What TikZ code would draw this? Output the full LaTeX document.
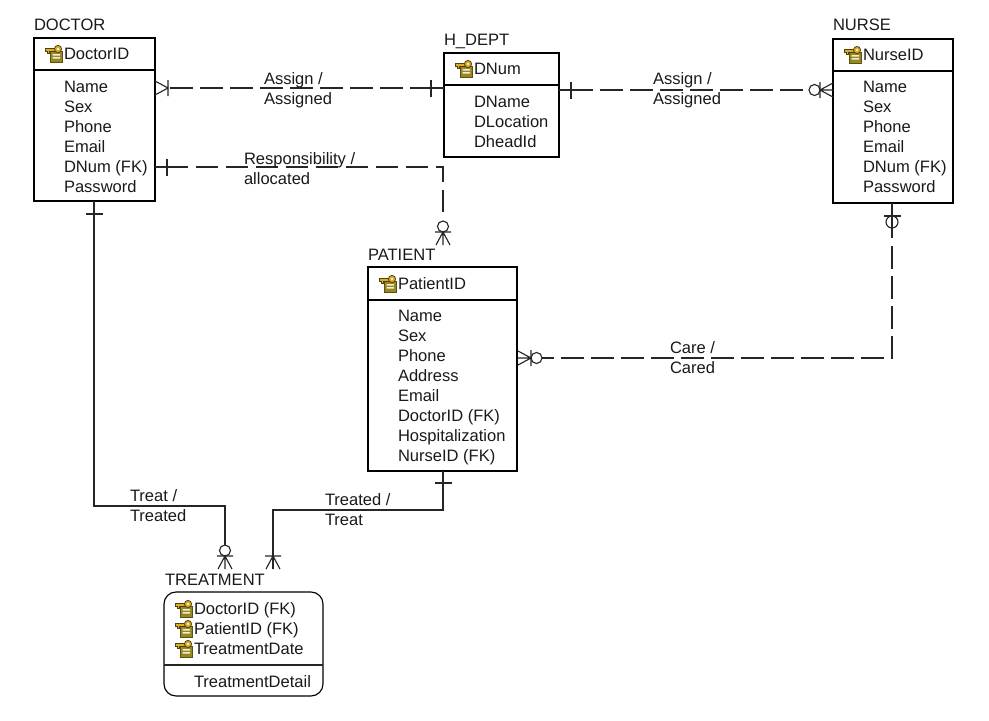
\documentclass[tikz,border=0pt]{standalone}
\usepackage{fontspec}
\setmainfont{Liberation Sans}
\usetikzlibrary{positioning}
\def\px{0.75pt}
\definecolor{keygold}{RGB}{222,170,40}
\definecolor{keyolive}{RGB}{150,135,30}
\tikzset{
  entity/.style={rectangle, draw, line width=0.85pt, inner sep=0pt, outer sep=0pt, anchor=north west},
  txt/.style={inner sep=0pt, outer sep=0pt, anchor=base west, font=\fontsize{12.4}{15}\selectfont, text=black!90},
  attrs/.style={inner sep=0pt, outer sep=0pt, anchor=north west, align=left, font=\fontsize{12.4}{15}\selectfont, text=black!90},
  rel/.style={line width=0.85pt, black!85},
  reldash/.style={rel, dash pattern=on 16.9pt off 5.6pt},
  crow/.pic={\draw[rel] (0,-7) -- (13,0) -- (0,7) (13,-8) -- (13,8);},
  crowline/.pic={\draw[rel] (0,-7) -- (13,0) -- (0,7) (0,0) -- (13,0) (13,-8) -- (13,8);},
  crowzero/.pic={\draw[rel] (0,-7) -- (13,0) -- (0,7) (0,0) -- (13,0) (13,-8) -- (13,8);
    \draw[rel] (18.5,0) circle[radius=5.5];},
  onebar/.pic={\draw[rel] (0,-8.5) -- (0,8.5);},
  zerostub/.pic={\draw[rel] (0,0) -- (35,0) (13,-8.5) -- (13,8.5);
    \draw[rel] (19,0) circle[radius=6];},
  keyicon/.pic={
    \draw[keyolive!60!black, line width=0.5pt, fill=keyolive] (-14,-3) rectangle (-2,8);
    \fill[white!85!keyolive] (-11.5,0) rectangle (-4,1.5) (-11.5,3) rectangle (-4,4.5);
    \draw[keyolive!50!black, line width=0.6pt, fill=keygold] (-19,-5.5) -- (-9,-5.5) -- (-9,-3) -- (-15,-3) -- (-15,-1) -- (-17,-1) -- (-17,-3) -- (-19,-3) -- cycle;
    \draw[keyolive!50!black, line width=0.6pt, fill=keygold] (-6,-5) circle[radius=3.6];
    \fill[white] (-6,-5) circle[radius=1.2];
  }
}
\begin{document}
\begin{tikzpicture}[x=\px, y=-\px]
    \useasboundingbox (0,0) rectangle (989,721);

    % Doctor
    \node[entity, minimum width=121*\px, minimum height=32*\px] (doctor) at (34,38) {};
    \node[entity, minimum width=121*\px, minimum height=131*\px] (doctorbody) at (doctor.south west) {};
    \node[txt] (doctortitle) at (34,30) {DOCTOR};
    \node[txt] (doctorid) at (64,59) {DoctorID};
    \node[attrs] (doctorattrs) at (64,81) {Name\\Sex\\Phone\\Email\\DNum (FK)\\Password};
    \pic at (doctorid.base west) [yshift=5*\px] {keyicon};

    % Department
    \node[entity, minimum width=115*\px, minimum height=32*\px] (hdept) at (444,53) {};
    \node[entity, minimum width=115*\px, minimum height=72*\px] (hdeptbody) at (hdept.south west) {};
    \node[txt] (hdepttitle) at (444,45) {H\_DEPT};
    \node[txt] (dnum) at (474,74) {DNum};
    \node[attrs] (hdeptattrs) at (474,96) {DName\\DLocation\\DheadId};
    \pic at (dnum.base west) [yshift=5*\px] {keyicon};

    % Nurse
    \node[entity, minimum width=120*\px, minimum height=32*\px] (nurse) at (833,39) {};
    \node[entity, minimum width=120*\px, minimum height=132*\px] (nursebody) at (nurse.south west) {};
    \node[txt] (nursetitle) at (833,31) {NURSE};
    \node[txt] (nurseid) at (863,60) {NurseID};
    \node[attrs] (nurseattrs) at (863,81) {Name\\Sex\\Phone\\Email\\DNum (FK)\\Password};
    \pic at (nurseid.base west) [yshift=5*\px] {keyicon};

    % Patient
    \node[entity, minimum width=149*\px, minimum height=33*\px] (patient) at (368,267) {};
    \node[entity, minimum width=149*\px, minimum height=171*\px] (patientbody) at (patient.south west) {};
    \node[txt] (patienttitle) at (368,260) {PATIENT};
    \node[txt] (patientid) at (398,289) {PatientID};
    \node[attrs] (patientattrs) at (398,310) {Name\\Sex\\Phone\\Address\\Email\\DoctorID (FK)\\Hospitalization\\NurseID (FK)};
    \pic at (patientid.base west) [yshift=5*\px] {keyicon};

    % Treatment
    \node[entity, rounded corners=9pt, minimum width=159*\px, minimum height=104*\px] (treatment) at (164,592) {};
    \node[txt] (treatmenttitle) at (165,585) {TREATMENT};
    \node[txt] (treatdoctor) at (194,614) {DoctorID (FK)};
    \node[txt] (treatpatient) at (194,634) {PatientID (FK)};
    \node[txt] (treatdate) at (194,654) {TreatmentDate};
    \node[txt] (treatdetail) at (194,687) {TreatmentDetail};
    \pic at (treatdoctor.base west) [yshift=5*\px] {keyicon};
    \pic at (treatpatient.base west) [yshift=5*\px] {keyicon};
    \pic at (treatdate.base west) [yshift=5*\px] {keyicon};
    \coordinate (treatsplit) at (treatment.west |- 0,665);
    \draw[rel] (treatsplit) -- (treatsplit -| treatment.east);

    % Free ends
    \coordinate (assigna) at (170,88);
    \coordinate (assignb) at (doctorbody.east |- assigna);
    \coordinate (hdeptleft) at (hdept.south west |- assigna);
    \coordinate (nurseassign) at (nursebody.west |- 0,90);
    \coordinate (hdeptassign) at (hdeptbody.east |- 0,90);
    \coordinate (doctorresp) at (doctorbody.east |- 0,167);
    \coordinate (patientresp) at (443,213);
    \coordinate (nursecare) at (892,246);
    \coordinate (patientcare) at (542,358);
    \coordinate (doctortreat) at (doctorbody.south -| 94,0);
    \coordinate (treatmentd) at (225,569);
    \coordinate (patienttreat) at (patientbody.south -| 443,0);
    \coordinate (treatmentp) at (273,569);

    % Relationships
    \draw[reldash] (assigna) -- (hdeptleft);
    \draw[rel] (431,88) -- (hdeptleft);
    \draw[reldash, dash phase=13.9pt] (hdeptassign) -- (803,90);
    \draw[rel] (hdeptassign) -- (572,90);
    \draw[reldash, dash phase=14.6pt] (doctorresp) -| (patientresp);
    \draw[rel] (doctorresp) -- (167,167);
    \draw[reldash] (nursecare) |- (patientcare);
    \draw[rel] (doctortreat) |- (225,506) -- (225,545);
    \draw[rel] (patienttreat) |- (273,510) -- (treatmentp);

    % Line ends
    \pic at (assignb) {crow};
    \pic at (431,88) {onebar};
    \pic at (571,90) {onebar};
    \pic[rotate=180] at (nurseassign) {crowzero};
    \pic at (167,167) {onebar};
    \pic[rotate=90] at (443,245) {crowzero};
    \pic[rotate=-90] at (nursebody.south -| 892,0) {zerostub};
    \pic at (518,358) {crowzero};
    \pic[rotate=90] at (94,214) {onebar};
    \pic[rotate=90] at (treatmentd) {crowzero};
    \pic[rotate=90] at (443,483) {onebar};
    \pic[rotate=90] at (treatmentp) {crowline};

    % Labels
    \node[txt] (assign1) at (264,84) {Assign /};
    \node[txt] (assigned1) at (264,104) {Assigned};
    \node[txt] (assign2) at (653,84) {Assign /};
    \node[txt] (assigned2) at (653,104) {Assigned};
    \node[txt] (resp) at (244,164) {Responsibility /};
    \node[txt] (alloc) at (244,184) {allocated};
    \node[txt] (care) at (670,353) {Care /};
    \node[txt] (cared) at (670,373) {Cared};
    \node[txt] (treat1) at (130,501) {Treat /};
    \node[txt] (treated1) at (130,521) {Treated};
    \node[txt] (treated2) at (325,505) {Treated /};
    \node[txt] (treat2) at (325,525) {Treat};
\end{tikzpicture}
\end{document}
